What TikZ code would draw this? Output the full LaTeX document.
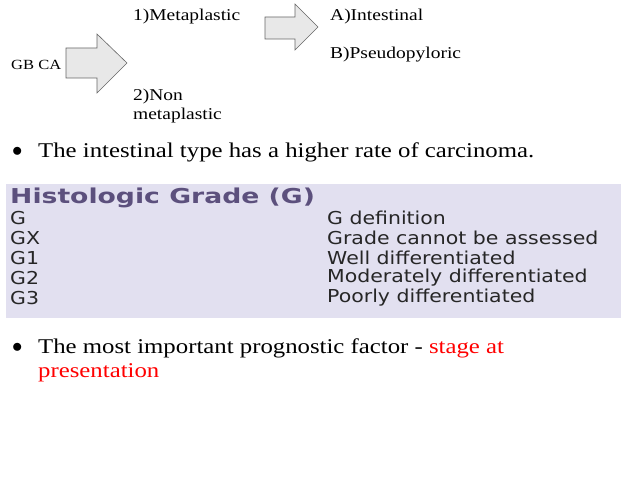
\documentclass[tikz,border=0pt]{standalone}
\usepackage{fontspec}
\setmainfont[FakeStretch=1.18]{Liberation Serif}
\setsansfont[FakeStretch=1.15]{DejaVu Sans}
\newfontfamily\hdfont[FakeStretch=1.3]{DejaVu Sans}
\begin{document}
\begin{tikzpicture}[x=1pt,y=-1pt,
  arr/.style={draw=gray!80!black,fill=gray!18,line width=0.6pt},
  lbl/.style={anchor=west,inner sep=0,font=\fontsize{16.5}{18}\selectfont},
  big/.style={anchor=west,inner sep=0,font=\fontsize{21}{24}\selectfont},
  tb/.style={anchor=west,inner sep=0,font=\sffamily\fontsize{17.8}{20}\selectfont,text=black!85}]
\useasboundingbox (0,0) rectangle (638,478);
\draw[arr] (66,48) -- (97,48) -- (97,34) -- (127,63) -- (97,93) -- (97,78) -- (66,78) -- cycle;
\draw[arr] (265,17) -- (295,17) -- (295,4) -- (318,27) -- (295,50) -- (295,39) -- (265,39) -- cycle;
\node[lbl,font=\fontsize{14}{16}\selectfont] (gb) at (11,65) {GB CA};
\node[lbl] (m1) at (133,17) {1)Metaplastic};
\node[lbl] (m2) at (133,97) {2)Non};
\node[lbl] (m3) at (133,116) {metaplastic};
\node[lbl] (a) at (330,17) {A)Intestinal};
\node[lbl] (b) at (330,55) {B)Pseudopyloric};
\node[big] (b1) at (12,152) {$\bullet$};
\node[big] (t1) at (38,152) {The intestinal type has a higher rate of carcinoma.};
\fill[fill={rgb,255:red,226;green,224;blue,240}] (6,184) rectangle (621,318);
\node[anchor=west,inner sep=0,font=\hdfont\bfseries\fontsize{20.5}{22}\selectfont,text={rgb,255:red,92;green,80;blue,125}] (h) at (10,198) {Histologic Grade (G)};
\foreach \l/\r/\y [count=\i] in {G/G definition/218,GX/Grade cannot be assessed/238,G1/Well differentiated/258,G2/Moderately differentiated/278,G3/Poorly differentiated/298}{
  \node[tb] (l\i) at (10,\y) {\l};
  \node[tb] (r\i) at (327,\y) {\r};
}
\node[big] (b2) at (12,348) {$\bullet$};
\node[big] (t2) at (38,348) {The most important prognostic factor - \textcolor{red}{stage at}};
\node[big,text=red] (t3) at (38,373) {presentation};
\end{tikzpicture}
\end{document}
